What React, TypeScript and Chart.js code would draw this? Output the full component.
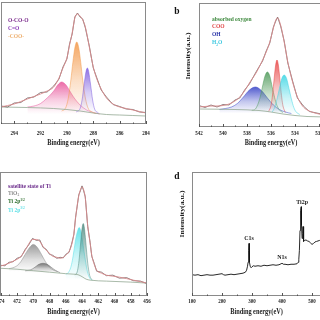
import React, { useEffect, useRef } from "react";
import { Chart, registerables } from "chart.js";
Chart.register(...registerables);

const SERIF = "'Liberation Serif', 'Times New Roman', serif";

// ---------- Panel a : C 1s ----------
const aTicks = [294, 292, 290, 288, 286, 284];
const aMinor = [295, 293, 291, 289, 287, 285];
const aEnvX = [295.0, 294.5, 294.0, 293.5, 293.0, 292.5, 292.0, 291.5, 291.0, 290.6, 290.3, 290.0, 289.8, 289.6, 289.4, 289.2, 289.0, 288.8, 288.6, 288.3, 288.0, 287.7, 287.4, 287.0, 286.5, 286.0, 285.5, 285.0, 284.5, 284.0];
const aEnvY = [17, 18.5, 20, 22.5, 25, 27.5, 30, 33, 37, 46, 56, 66, 79, 91, 106, 110, 108, 104, 97, 77, 57, 44, 35, 26, 20, 17, 15.5, 14, 12.5, 11];
const aRawY = [18, 17, 21, 21.5, 26, 27, 31.5, 32, 38, 45, 57, 65, 80, 90, 107, 111, 107, 105, 96, 78, 56, 45, 34, 27, 19.5, 17.5, 15, 14.5, 12, 11.5];
const aBgX = [295, 293, 291, 290, 289, 288, 287, 286, 285, 284];
const aBgY = [17, 16.5, 15.5, 14.5, 13, 11, 9.5, 9, 8.5, 8];
const aPinkX = [293.0, 292.5, 292.0, 291.5, 291.0, 290.7, 290.4, 290.1, 289.8, 289.5, 289.0, 288.5, 288.0, 287.5];
const aPinkY = [17, 18, 20.5, 26, 33, 39, 42, 39.5, 33.5, 27, 19, 14, 11.5, 10];
const aOrangeX = [290.4, 290.1, 289.9, 289.7, 289.55, 289.4, 289.25, 289.1, 288.95, 288.8, 288.6, 288.4, 288.1, 287.8];
const aOrangeY = [13, 16, 25.5, 44, 61.5, 76, 82, 76, 61.5, 44, 26, 16, 12, 10.5];
const aPurpleX = [289.3, 289.0, 288.85, 288.7, 288.55, 288.45, 288.35, 288.2, 288.05, 287.9, 287.6];
const aPurpleY = [12, 15.5, 24, 39, 52.5, 56, 52.5, 39, 24, 15, 11];

// ---------- Panel b : O 1s ----------
const bTicks = [542, 540, 538, 536, 534, 532];
const bMinor = [541, 539, 537, 535, 533, 531];
const bEnvX = [542, 541.5, 541, 540.5, 540, 539.5, 539, 538.6, 538.2, 537.8, 537.2, 536.7, 536.4, 536.1, 535.8, 535.6, 535.45, 535.2, 534.9, 534.6, 534.2, 533.8, 533.3, 532.8, 532.0, 531.0, 530.0];
const bEnvY = [20, 20.5, 21, 21, 21.5, 23, 26, 30, 36, 44, 55, 67, 75, 85, 99, 107, 109, 102, 85, 65, 45, 30, 20, 16, 13, 11, 10];
const bRawY = [21.5, 19.5, 22, 20, 22.5, 22, 27, 29, 37, 43, 56, 66, 76, 84, 100, 106, 110, 101, 86, 64, 46, 29, 21, 15.5, 13.5, 10.5, 10.5];
const bBgX = [542, 539, 537, 536, 535, 534, 533, 531, 530];
const bBgY = [18, 17.5, 16.5, 15, 13, 11.5, 10.5, 10, 9.5];
const bBlueX = [540.3, 539.8, 539.3, 538.8, 538.3, 537.8, 537.3, 536.8, 536.3, 535.8, 535.3, 534.8, 534.3];
const bBlueY = [17.5, 18.5, 20, 23.5, 30, 37, 40, 36.5, 29, 22, 17.5, 15, 13.5];
const bGreenX = [537.6, 537.3, 537.1, 536.9, 536.7, 536.5, 536.3, 536.1, 535.9, 535.7, 535.5, 535.3, 535.0];
const bGreenY = [16.5, 18, 22.5, 30, 41, 51, 55, 51, 40, 29.5, 21.5, 17, 14.5];
const bRedX = [536.2, 536.0, 535.9, 535.8, 535.7, 535.6, 535.5, 535.4, 535.3, 535.2, 535.1, 535.0, 534.8];
const bRedY = [15.5, 21.5, 29.5, 40.5, 53, 63, 67, 63, 53, 40.5, 29, 21, 14.5];
const bCyanX = [535.9, 535.7, 535.5, 535.3, 535.1, 534.9, 534.7, 534.5, 534.3, 534.1, 533.9, 533.6];
const bCyanY = [15, 19.5, 28, 38.5, 48.5, 52, 48.5, 38.5, 28, 19.5, 15, 12.5];

// ---------- Panel c : Ti 2p ----------
const cTicks = [474, 472, 470, 468, 466, 464, 462, 460, 458, 456];
const cMinor = [473, 471, 469, 467, 465, 463, 461, 459, 457];
const cEnvX = [474.1, 473.5, 473, 472.5, 472, 471.5, 471.0, 470.6, 470.1, 469.6, 469.2, 468.8, 468.4, 468.0, 467.6, 467.1, 466.7, 466.3, 466.0, 465.6, 465.3, 465.0, 464.8, 464.6, 464.4, 464.2, 464.0, 463.8, 463.6, 463.3, 463.0, 462.8, 462.5, 462.2, 461.6, 461.0, 460.2, 459.4, 458.5, 457.7, 456.8, 456.0];
const cEnvY = [29, 30.5, 32, 34, 36, 39, 45, 51, 56, 56, 54, 49, 45, 42, 39, 38, 37, 38, 40, 44, 50, 62, 77, 90, 100, 106, 109, 106, 98, 70, 52, 40, 31, 25, 22, 20, 19, 18, 16.5, 15, 13.5, 12];
const cRawY = [30, 29.5, 33, 33.5, 37, 38.5, 46, 50, 57, 55, 55.5, 48, 46, 41, 40, 37, 38, 37.5, 41, 43, 51, 61, 78, 89, 101, 105, 110, 105, 99, 69, 53, 39, 32, 24, 23, 19.5, 20, 17, 17.5, 14.5, 14, 11.5];
const cBgX = [474.1, 472, 470, 468, 466, 465, 464.5, 464, 463.5, 463, 461, 458, 456];
const cBgY = [27, 26, 24.5, 23, 21.5, 21, 20.5, 18.5, 16, 15, 14, 13, 12];
const cGrayX = [473.0, 472.5, 472.0, 471.5, 471.0, 470.5, 470.0, 469.5, 469.0, 468.5, 468.0, 467.5, 467.0];
const cGrayY = [26.5, 27.5, 29.5, 34, 41, 47.5, 51, 48, 41, 33.5, 28, 25, 23.5];
const cSatX = [471.0, 470.3, 469.8, 469.3, 468.8, 468.3, 467.8, 467.3, 466.7];
const cSatY = [24.5, 25.5, 28, 31, 32, 31, 28, 25, 22.5];
const cCyanX = [466.0, 465.7, 465.4, 465.2, 465.0, 464.8, 464.55, 464.35, 464.15, 463.95, 463.75, 463.55, 463.35, 463.05, 462.7];
const cCyanY = [21, 22.5, 27.5, 34.5, 44.5, 55.5, 64.5, 68, 64.5, 55.5, 44, 33, 24, 17, 15];
const cTealX = [464.9, 464.65, 464.45, 464.3, 464.15, 464.0, 463.85, 463.7, 463.55, 463.4, 463.25, 463.05, 462.8];
const cTealY = [20.5, 22, 29.5, 40.5, 54.5, 67, 72, 67, 54.5, 40.5, 29, 19.5, 15.5];

// ---------- Panel d : survey ----------
const dTicks = [100, 200, 300, 400, 500];
const dMinor = [150, 250, 350, 450];
const dX = [100, 110, 120, 130, 140, 150, 160, 170, 180, 190, 200, 205, 210, 220, 230, 240, 250, 260, 270, 278, 282, 285, 287, 289, 290, 291, 292, 294, 297, 300, 305, 310, 320, 330, 340, 350, 360, 370, 380, 390, 397, 400, 405, 410, 420, 430, 440, 450, 454, 456, 458, 460, 462, 464, 465, 467, 469, 470, 471, 473, 475, 480, 485, 490, 495, 500, 505, 510, 515, 520, 525, 530];
const dY = [20.5, 20, 20.5, 19.5, 20, 20.5, 20, 20, 20.5, 21, 21.5, 20.5, 20, 20.5, 21, 20.5, 21, 21.5, 22, 23, 25, 29, 33, 45, 52, 40, 33, 29, 27.5, 28.5, 29.5, 29, 29.5, 29, 30, 29.5, 30, 30.5, 30, 30.5, 31.5, 32, 31, 31, 30.5, 31, 31, 31.5, 33, 36, 45, 65, 85, 89, 70, 57, 62, 69, 60, 54, 55, 55.5, 54.5, 54, 52.5, 51, 52, 53.5, 54, 54.5, 55, 56];

// ---------- helpers ----------
type Part = { t: string; sub?: boolean; sup?: boolean };
type Label = { parts: Part[]; color: string; size: number; dx?: number; dy?: number; x?: number; y?: number; center?: boolean };

function pts(xs: number[], ys: number[]) {
  return xs.map((x, i) => ({ x, y: ys[i] }));
}
function rgba(hex: string, a: number) {
  const n = parseInt(hex.slice(1), 16);
  return `rgba(${(n >> 16) & 255},${(n >> 8) & 255},${n & 255},${a})`;
}
function gradientFill(color: string) {
  return (ctx: any) => {
    const chart = ctx.chart;
    if (!chart.chartArea || !chart.scales.y) return rgba(color, 0.4);
    const vals = (ctx.dataset.data as { y: number }[]).map((d) => d.y);
    const top = chart.scales.y.getPixelForValue(Math.max(...vals));
    const bot = chart.scales.y.getPixelForValue(Math.min(...vals));
    const g = chart.ctx.createLinearGradient(0, top, 0, bot);
    g.addColorStop(0, rgba(color, 0.88));
    g.addColorStop(0.55, rgba(color, 0.3));
    g.addColorStop(1, rgba(color, 0));
    return g;
  };
}
function line(xs: number[], ys: number[], color: string, width: number, smooth = true) {
  return {
    data: pts(xs, ys), borderColor: color, borderWidth: width, pointRadius: 0, fill: false,
    cubicInterpolationMode: smooth ? "monotone" : "default", tension: 0,
  };
}
function peak(xs: number[], ys: number[], color: string) {
  return {
    data: pts(xs, ys), borderColor: rgba(color, 0.85), borderWidth: 0.6, pointRadius: 0,
    fill: "origin", backgroundColor: gradientFill(color), cubicInterpolationMode: "monotone",
  };
}
// draws rich text; sx/sy stretch the glyphs, rot rotates (radians)
function drawRich(ctx: CanvasRenderingContext2D, parts: Part[], x: number, y: number, size: number, color: string,
  center?: boolean, sx = 1, sy = 1, rot = 0) {
  const main = `bold ${size}px ${SERIF}`;
  const small = `bold ${(size * 0.65).toFixed(2)}px ${SERIF}`;
  let w = 0;
  for (const p of parts) {
    ctx.font = p.sub || p.sup ? small : main;
    w += ctx.measureText(p.t).width;
  }
  ctx.save();
  ctx.translate(x, y);
  if (rot) ctx.rotate(rot);
  ctx.scale(sx, sy);
  let cx = center ? -w / 2 : 0;
  ctx.fillStyle = color;
  ctx.textAlign = "left";
  ctx.textBaseline = "middle";
  for (const p of parts) {
    ctx.font = p.sub || p.sup ? small : main;
    const off = p.sub ? size * 0.3 : p.sup ? -size * 0.35 : 0;
    ctx.fillText(p.t, cx, off);
    cx += ctx.measureText(p.t).width;
  }
  ctx.restore();
}

interface PanelCfg {
  id: string; left: number; top: number; width: number; height: number;
  padRight: number; padTop: number; yAxisW: number; xAxisH: number;
  xMin: number; xMax: number; reverse: boolean; yMin: number; yMax: number;
  ticks: number[]; minor: number[]; tickDy: number; titleDy: number; yTitleDx: number; yTitleDy: number;
  letterDx: number; letterDy: number; labels: Label[]; datasets: any[];
}

function framePlugin(cfg: PanelCfg) {
  return {
    id: "frame" + cfg.id,
    afterDraw(chart: any) {
      const { ctx, chartArea: a } = chart;
      const xs = chart.scales.x;
      const ys = chart.scales.y;
      ctx.save();
      ctx.strokeStyle = "#8a8a8a";
      ctx.lineWidth = 1;
      ctx.strokeRect(Math.round(a.left) + 0.5, Math.round(a.top) + 0.5, Math.round(a.width) - 1, Math.round(a.height) - 1);
      ctx.strokeStyle = "#555";
      ctx.beginPath();
      for (const t of xs.ticks) {
        const px = Math.round(xs.getPixelForValue(t.value)) + 0.5;
        ctx.moveTo(px, a.bottom);
        ctx.lineTo(px, a.bottom - 3);
      }
      for (const v of cfg.minor) {
        const px = Math.round(xs.getPixelForValue(v)) + 0.5;
        ctx.moveTo(px, a.bottom);
        ctx.lineTo(px, a.bottom - 1.5);
      }
      ctx.stroke();
      // tick labels (condensed, tall glyphs like the original)
      for (const t of xs.ticks) {
        drawRich(ctx, [{ t: String(t.value) }], xs.getPixelForValue(t.value), a.bottom + cfg.tickDy, 5, "#222", true, 1, 1.35);
      }
      drawRich(ctx, [{ t: "Binding energy(eV)" }], (a.left + a.right) / 2, a.bottom + cfg.titleDy, 6.3, "#222", true, 1, 1.2);
      drawRich(ctx, [{ t: "Intensity(a.u.)" }], a.left + cfg.yTitleDx, a.top + cfg.yTitleDy, 5.6, "#222", true, 1.4, 1, -Math.PI / 2);
      drawRich(ctx, [{ t: cfg.id }], a.left + cfg.letterDx, a.top + cfg.letterDy, 9.5, "#111", true);
      for (const l of cfg.labels) {
        const x = l.x !== undefined ? xs.getPixelForValue(l.x) : a.left + (l.dx || 0);
        const y = l.y !== undefined ? ys.getPixelForValue(l.y) : a.top + (l.dy || 0);
        drawRich(ctx, l.parts, x, y, l.size, l.color, l.center, 1, 1.1);
      }
      ctx.restore();
    },
  };
}

function makeChart(canvas: HTMLCanvasElement, cfg: PanelCfg) {
  return new Chart(canvas, {
    type: "line",
    data: { datasets: cfg.datasets },
    options: {
      animation: false,
      responsive: false,
      devicePixelRatio: 1,
      layout: { padding: { left: 0, right: cfg.padRight, top: cfg.padTop, bottom: 0 } },
      plugins: { legend: { display: false }, tooltip: { enabled: false } },
      scales: {
        x: {
          type: "linear", min: cfg.xMin, max: cfg.xMax, reverse: cfg.reverse,
          afterBuildTicks: (s: any) => { s.ticks = cfg.ticks.map((value) => ({ value })); },
          afterFit: (s: any) => { s.height = cfg.xAxisH; s.paddingLeft = 0; s.paddingRight = 0; },
          grid: { display: false, drawTicks: false },
          border: { display: false },
          ticks: { display: false },
          title: { display: false },
        },
        y: {
          type: "linear", min: cfg.yMin, max: cfg.yMax,
          afterFit: (s: any) => { s.width = cfg.yAxisW; s.paddingTop = 0; s.paddingBottom = 0; },
          grid: { display: false, drawTicks: false },
          border: { display: false },
          ticks: { display: false },
          title: { display: false },
        },
      },
    } as any,
    plugins: [framePlugin(cfg) as any],
  });
}

const RAW = "#5e4b4b";
const ENV = "#d98a8c";
const BG = "#93a893";

const panels: PanelCfg[] = [
  {
    id: "a", left: -30, top: 0, width: 186, height: 152, padRight: 10, padTop: 2, yAxisW: 31, xAxisH: 28,
    xMin: 284, xMax: 295, reverse: true, yMin: 0, yMax: 122, ticks: aTicks, minor: aMinor,
    tickDy: 9, titleDy: 19, yTitleDx: -11, yTitleDy: 54, letterDx: -22, letterDy: 9,
    labels: [
      { parts: [{ t: "O-CO-O" }], color: "#7a2a8c", size: 5.5, dx: 7, dy: 18 },
      { parts: [{ t: "C=O" }], color: "#8a3ab8", size: 5.5, dx: 7, dy: 26 },
      { parts: [{ t: "-COO-" }], color: "#eeb070", size: 5.5, dx: 7, dy: 34 },
    ],
    datasets: [
      line(aEnvX, aEnvY, ENV, 0.9),
      line(aEnvX, aRawY, RAW, 0.7, false),
      line(aBgX, aBgY, BG, 0.8),
      peak(aPurpleX, aPurpleY, "#7f5ee0"),
      peak(aOrangeX, aOrangeY, "#f39a4c"),
      peak(aPinkX, aPinkY, "#e8579c"),
    ],
  },
  {
    id: "b", left: 168, top: 0, width: 185, height: 152, padRight: 10, padTop: 3, yAxisW: 31, xAxisH: 25,
    xMin: 530, xMax: 542, reverse: true, yMin: 0, yMax: 124, ticks: bTicks, minor: bMinor,
    tickDy: 6, titleDy: 16, yTitleDx: -10, yTitleDy: 53, letterDx: -22, letterDy: 9,
    labels: [
      { parts: [{ t: "absorbed oxygen" }], color: "#3f8a3f", size: 5.5, dx: 13, dy: 16.3 },
      { parts: [{ t: "COO" }], color: "#e04848", size: 5.5, dx: 13, dy: 23.7 },
      { parts: [{ t: "OH" }], color: "#2a34a8", size: 5.5, dx: 13, dy: 31.3 },
      { parts: [{ t: "H" }, { t: "2", sub: true }, { t: "O" }], color: "#3cc8e0", size: 5.5, dx: 13, dy: 39.7 },
    ],
    datasets: [
      line(bEnvX, bEnvY, ENV, 0.9),
      line(bEnvX, bRawY, RAW, 0.7, false),
      line(bBgX, bBgY, BG, 0.8),
      peak(bCyanX, bCyanY, "#3fd6e4"),
      peak(bRedX, bRedY, "#e84848"),
      peak(bGreenX, bGreenY, "#4f9a5a"),
      peak(bBlueX, bBlueY, "#3a46c8"),
    ],
  },
  {
    id: "c", left: -31, top: 170, width: 188, height: 150, padRight: 10, padTop: 2, yAxisW: 31, xAxisH: 24,
    xMin: 456, xMax: 474.1, reverse: true, yMin: -1, yMax: 124, ticks: cTicks, minor: cMinor,
    tickDy: 5, titleDy: 16.5, yTitleDx: -9, yTitleDy: 42, letterDx: -15, letterDy: 5,
    labels: [
      { parts: [{ t: "satellite state of Ti" }], color: "#6a2a8a", size: 5.5, dx: 8, dy: 14 },
      { parts: [{ t: "TiO" }, { t: "2", sub: true }], color: "#8c8c8c", size: 5.5, dx: 8, dy: 21.3 },
      { parts: [{ t: "Ti 2p" }, { t: "1/2", sup: true }], color: "#2a6a2a", size: 5.5, dx: 8, dy: 29.7 },
      { parts: [{ t: "Ti 2p" }, { t: "3/2", sup: true }], color: "#5fe0e6", size: 5.5, dx: 8, dy: 38 },
    ],
    datasets: [
      line(cEnvX, cEnvY, ENV, 0.9),
      line(cEnvX, cRawY, RAW, 0.7, false),
      line(cBgX, cBgY, BG, 0.8),
      peak(cTealX, cTealY, "#4f8a80"),
      peak(cCyanX, cCyanY, "#55e0e8"),
      peak(cSatX, cSatY, "#6a6a6a"),
      peak(cGrayX, cGrayY, "#8e8e8e"),
    ],
  },
  {
    id: "d", left: 161, top: 170, width: 170, height: 150, padRight: 10, padTop: 2, yAxisW: 31, xAxisH: 24,
    xMin: 100, xMax: 530, reverse: false, yMin: -1, yMax: 124, ticks: dTicks, minor: dMinor,
    tickDy: 5, titleDy: 16.5, yTitleDx: -9, yTitleDy: 42, letterDx: -15, letterDy: 5,
    labels: [
      { parts: [{ t: "C1s" }], color: "#222", size: 6, x: 290, y: 57, center: true },
      { parts: [{ t: "N1s" }], color: "#222", size: 6, x: 400, y: 38, center: true },
      { parts: [{ t: "Ti2p" }], color: "#222", size: 6, x: 467, y: 93, center: true },
    ],
    datasets: [line(dX, dY, "#111", 0.9, false)],
  },
];

function Panel({ cfg }: { cfg: PanelCfg }) {
  const ref = useRef<HTMLCanvasElement | null>(null);
  useEffect(() => {
    if (!ref.current) return;
    const chart = makeChart(ref.current, cfg);
    return () => chart.destroy();
  }, [cfg]);
  return (
    <canvas
      ref={ref}
      width={cfg.width}
      height={cfg.height}
      style={{ position: "absolute", left: cfg.left, top: cfg.top, width: cfg.width, height: cfg.height }}
    />
  );
}

export default function App() {
  return (
    <div style={{ position: "fixed", left: 0, top: 0, width: 320, height: 320, overflow: "hidden", background: "#fff" }}>
      {panels.map((p) => (
        <Panel key={p.id} cfg={p} />
      ))}
    </div>
  );
}
